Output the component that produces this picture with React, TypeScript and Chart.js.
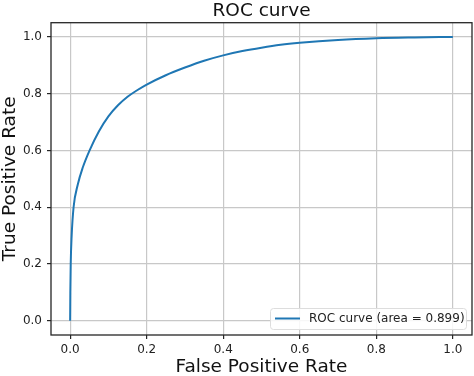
import React, { useEffect, useRef } from "react";
import { Chart, registerables } from "chart.js";

Chart.register(...registerables);

const FPR = [0, 0.0005, 0.0015, 0.004, 0.009, 0.02, 0.033, 0.05, 0.075, 0.1, 0.125, 0.15, 0.175, 0.2, 0.25, 0.3, 0.35, 0.4, 0.45, 0.5, 0.55, 0.6, 0.7, 0.8, 0.9, 1.0];
const TPR = [0, 0.1, 0.2, 0.3, 0.4, 0.48, 0.54, 0.598, 0.667, 0.72, 0.759, 0.789, 0.812, 0.832, 0.865, 0.892, 0.916, 0.935, 0.95, 0.962, 0.972, 0.979, 0.989, 0.995, 0.998, 1.0];
const X_TICKS = [0, 0.2, 0.4, 0.6, 0.8, 1.0];
const Y_TICKS = [0, 0.2, 0.4, 0.6, 0.8, 1.0];
const TITLE = "ROC curve";
const X_LABEL = "False Positive Rate";
const Y_LABEL = "True Positive Rate";
const LEGEND_LABEL = "ROC curve (area = 0.899)";

const FONT = "'DejaVu Sans', sans-serif";
const LINE_COLOR = "#1f77b4";

const framePlugin = {
  id: "frameAndLegend",
  afterDraw(chart: any) {
    const { ctx, chartArea } = chart;
    ctx.save();
    ctx.strokeStyle = "#262626";
    ctx.lineWidth = 1.3;
    ctx.strokeRect(chartArea.left, chartArea.top, chartArea.right - chartArea.left, chartArea.bottom - chartArea.top);

    // legend box
    const bx = 270.5, by = 308.5, bw = 196, bh = 21;
    const r = 3;
    ctx.beginPath();
    ctx.moveTo(bx + r, by);
    ctx.lineTo(bx + bw - r, by);
    ctx.quadraticCurveTo(bx + bw, by, bx + bw, by + r);
    ctx.lineTo(bx + bw, by + bh - r);
    ctx.quadraticCurveTo(bx + bw, by + bh, bx + bw - r, by + bh);
    ctx.lineTo(bx + r, by + bh);
    ctx.quadraticCurveTo(bx, by + bh, bx, by + bh - r);
    ctx.lineTo(bx, by + r);
    ctx.quadraticCurveTo(bx, by, bx + r, by);
    ctx.closePath();
    ctx.fillStyle = "rgba(255,255,255,0.85)";
    ctx.fill();
    ctx.strokeStyle = "#dddddd";
    ctx.lineWidth = 1;
    ctx.stroke();

    ctx.strokeStyle = LINE_COLOR;
    ctx.lineWidth = 2;
    ctx.beginPath();
    ctx.moveTo(275, 318.5);
    ctx.lineTo(300, 318.5);
    ctx.stroke();

    ctx.fillStyle = "#222222";
    ctx.font = `12px ${FONT}`;
    ctx.textBaseline = "middle";
    ctx.textAlign = "left";
    ctx.fillText(LEGEND_LABEL, 309, 319);
    ctx.restore();
  },
};

export default function App() {
  const ref = useRef<HTMLCanvasElement | null>(null);

  useEffect(() => {
    if (!ref.current) return;
    const data = FPR.map((x, i) => ({ x, y: TPR[i] }));
    const gridCommon = {
      color: "#c8c8c8",
      lineWidth: 1.2,
      tickColor: "#262626",
      tickLength: 4,
      drawTicks: true,
    };
    const chart = new Chart(ref.current, {
      type: "scatter",
      data: {
        datasets: [
          {
            label: LEGEND_LABEL,
            data,
            showLine: true,
            borderColor: LINE_COLOR,
            backgroundColor: LINE_COLOR,
            borderWidth: 2,
            pointRadius: 0,
            cubicInterpolationMode: "monotone",
          } as any,
        ],
      },
      options: {
        animation: false,
        responsive: false,
        layout: { padding: { top: 0, right: 2, bottom: 0, left: 0 } },
        plugins: {
          legend: { display: false },
          tooltip: { enabled: false },
          title: {
            display: true,
            text: TITLE,
            fullSize: false,
            color: "#111111",
            font: { family: FONT, size: 18.5, weight: "normal", lineHeight: 1.2 },
            padding: { top: 0, bottom: 0.5 },
          },
        },
        scales: {
          x: {
            type: "linear",
            min: -0.05,
            max: 1.05,
            afterBuildTicks: (s: any) => {
              s.ticks = X_TICKS.map((v) => ({ value: v }));
            },
            afterFit: (s: any) => {
              s.height = 41;
            },
            grid: gridCommon,
            border: { display: false },
            ticks: {
              color: "#222222",
              font: { family: FONT, size: 12 },
              padding: 4,
              maxRotation: 0,
              callback: (v: any) => Number(v).toFixed(1),
            },
            title: {
              display: true,
              text: X_LABEL,
              color: "#111111",
              font: { family: FONT, size: 18.5, lineHeight: 1.1 },
              padding: { top: 0, bottom: -1 },
            },
          },
          y: {
            type: "linear",
            min: -0.05,
            max: 1.05,
            afterBuildTicks: (s: any) => {
              s.ticks = Y_TICKS.map((v) => ({ value: v }));
            },
            afterFit: (s: any) => {
              s.width = 51;
            },
            grid: gridCommon,
            border: { display: false },
            ticks: {
              color: "#222222",
              font: { family: FONT, size: 12 },
              padding: 5,
              callback: (v: any) => Number(v).toFixed(1),
            },
            title: {
              display: true,
              text: Y_LABEL,
              color: "#111111",
              font: { family: FONT, size: 18.5, lineHeight: 1.1 },
              padding: { top: 0, bottom: 0 },
            },
          },
        },
      },
      plugins: [framePlugin],
    });
    return () => chart.destroy();
  }, []);

  return (
    <div style={{ position: "fixed", left: 0, top: 0, width: 474, height: 376, background: "#fff" }}>
      <canvas ref={ref} width={474} height={376} style={{ width: 474, height: 376, display: "block" }} />
    </div>
  );
}
